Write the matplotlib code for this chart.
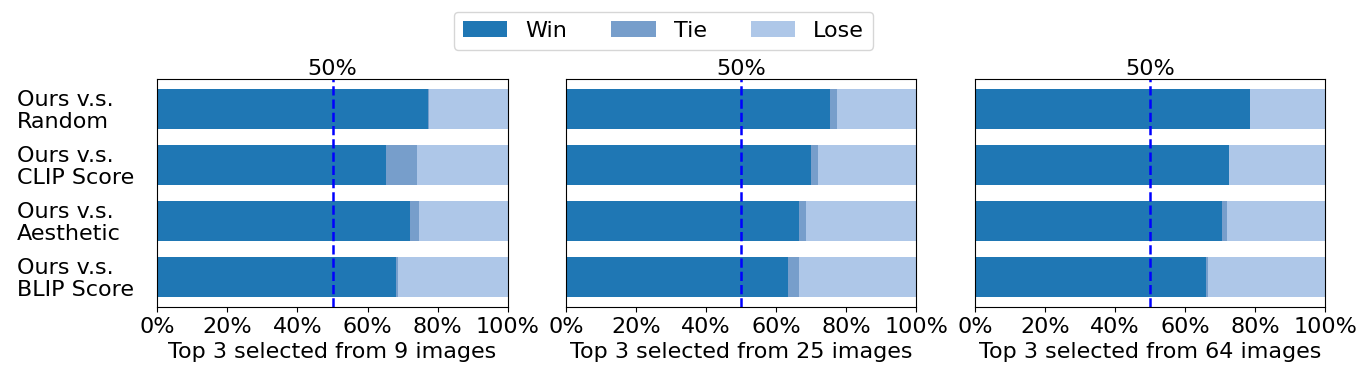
import matplotlib
matplotlib.use("Agg")
import matplotlib.pyplot as plt
import matplotlib.transforms as mtransforms
import numpy as np
from matplotlib.ticker import PercentFormatter

categories = ["Ours v.s.\nRandom", "Ours v.s.\nCLIP Score", "Ours v.s.\nAesthetic", "Ours v.s.\nBLIP Score"]
titles = ["Top 3 selected from 9 images", "Top 3 selected from 25 images", "Top 3 selected from 64 images"]
win_9 = [77.2, 65.2, 72.1, 68.1]
tie_9 = [0.3, 8.9, 2.5, 0.6]
win_25 = [75.4, 70.0, 66.6, 63.4]
tie_25 = [2.0, 2.0, 2.0, 3.2]
win_64 = [78.6, 72.6, 70.6, 66.0]
tie_64 = [0.0, 0.0, 1.4, 0.6]

wins = [win_9, win_25, win_64]
ties = [tie_9, tie_25, tie_64]

c_win = "#1f77b4"
c_tie = "#779ecb"
c_lose = "#aec7e8"

fig = plt.figure(figsize=(13.64, 3.68), dpi=100)
lefts = [157, 566, 975]
rights = [508, 916, 1325]
bottom = 1 - 307 / 368
top = 1 - 79 / 368
fs = 16
axes = []
for i in range(3):
    ax = fig.add_axes([lefts[i] / 1364, bottom, (rights[i] - lefts[i]) / 1364, top - bottom])
    axes.append(ax)
    y = np.arange(len(categories))
    w = np.array(wins[i])
    t = np.array(ties[i])
    l = 100 - w - t
    hw = ax.barh(y, w, height=0.7, color=c_win, label="Win")
    ht = ax.barh(y, t, left=w, height=0.7, color=c_tie, label="Tie")
    hl = ax.barh(y, l, left=w + t, height=0.7, color=c_lose, label="Lose")
    ax.set_xlim(0, 100)
    ax.invert_yaxis()
    ax.axvline(50, color="blue", linestyle="--", linewidth=1.8)
    ax.text(50, 1.0, "50%", transform=ax.get_xaxis_transform(), ha="center", va="bottom", fontsize=fs)
    ax.xaxis.set_major_formatter(PercentFormatter(decimals=0))
    ax.set_xticks([0, 20, 40, 60, 80, 100])
    ax.tick_params(axis="x", labelsize=fs)
    ax.set_xlabel(titles[i], fontsize=fs)
    ax.set_yticks(y)
    ax.set_yticklabels([])
    ax.tick_params(axis="y", length=0)
    if i == 0:
        trans = mtransforms.blended_transform_factory(fig.transFigure, ax.transData)
        offset = mtransforms.ScaledTranslation(0, -2 / 100, fig.dpi_scale_trans)
        for yy, cat in zip(y, categories):
            fig.text(17 / 1364, yy, cat, transform=trans + offset, ha="left", va="center",
                     fontsize=fs, multialignment="left", linespacing=1.15)

fig.legend([hw, ht, hl], ["Win", "Tie", "Lose"], loc="upper center",
           bbox_to_anchor=(0.4864, 1 - 12 / 368), borderaxespad=0,
           ncol=3, fontsize=fs)

fig.savefig("out.png", dpi=100)
